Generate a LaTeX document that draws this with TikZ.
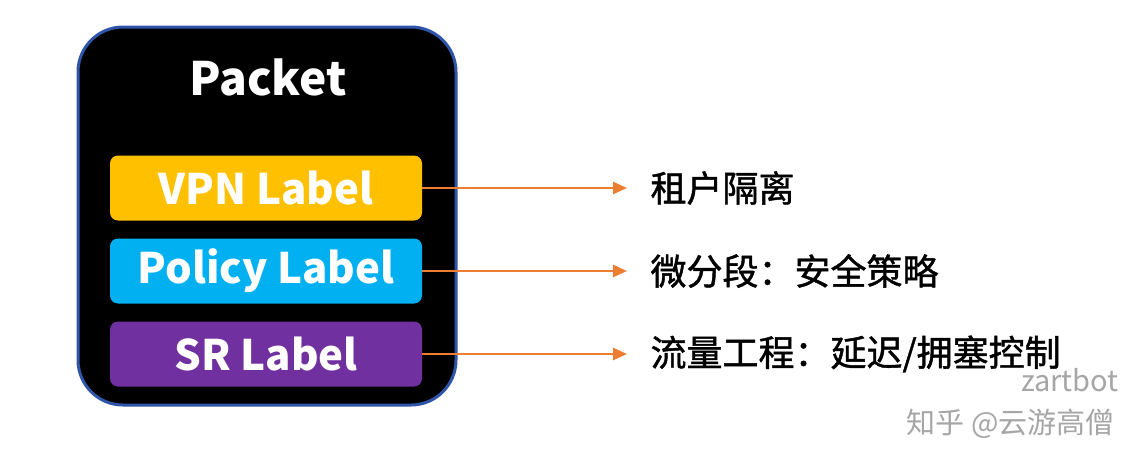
\documentclass[tikz,border=0pt]{standalone}
\usepackage{fontspec}
\setmainfont{Noto Sans CJK SC}
\newfontfamily\cjk[FakeBold=1.2]{Noto Sans CJK SC}
\newfontfamily\wmfont{Noto Sans CJK SC}
\usetikzlibrary{arrows.meta}
\definecolor{vpn}{HTML}{FFC000}
\definecolor{pol}{HTML}{00B0F0}
\definecolor{sr}{HTML}{7030A0}
\definecolor{arr}{HTML}{ED7D31}
\definecolor{edge}{HTML}{2F55A8}
\tikzset{
  lab/.style={rounded corners=8pt,minimum width=312pt,minimum height=65pt,text=white,font=\fontsize{42}{46}\selectfont\bfseries},
  cn/.style={anchor=west,font=\cjk\fontsize{36}{40}\selectfont},
  conn/.style={arr,line width=2.5pt,-{Triangle[length=14pt,width=12pt]},shorten >=20pt},
  wm/.style={text=black!35,font=\wmfont\fontsize{29}{30}\selectfont}
}
\begin{document}
\begin{tikzpicture}[x=1pt,y=-1pt]
\useasboundingbox[fill=white] (0,0) rectangle (1146,467);
\draw[fill=black,draw=edge,line width=3pt,rounded corners=45pt] (78,27) rectangle (456,405);
\node[text=white,font=\fontsize{46}{50}\selectfont\bfseries] (pk) at (268,77) {Packet};
\node[lab,fill=vpn] (v) at (266,188) {VPN Label};
\node[lab,fill=pol] (p) at (266,271) {Policy Label};
\node[lab,fill=sr] (s) at (266,354) {SR Label};
\node[cn] (t1) at (647,188) {租户隔离};
\node[cn] (t2) at (647,271) {微分段：安全策略};
\node[cn] (t3) at (647,354) {流量工程：延迟/拥塞控制};
\draw[conn] (v.east) -- (t1.west);
\draw[conn] (p.east) -- (t2.west);
\draw[conn] (s.east) -- (t3.west);
\node[wm,anchor=east] (w1) at (1122,380) {zartbot};
\node[wm,anchor=east] (w2) at (1118,424) {知乎 @云游高僧};
\end{tikzpicture}
\end{document}
